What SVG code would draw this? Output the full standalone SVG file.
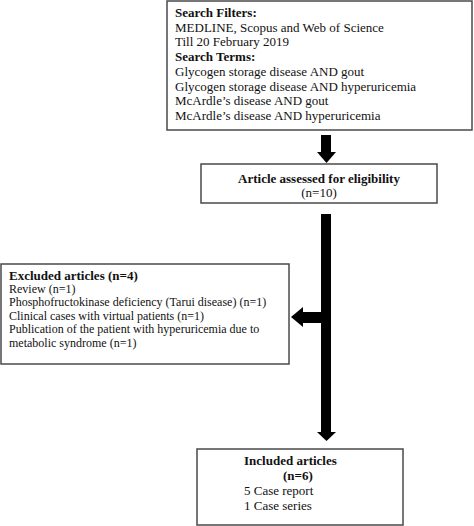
<svg xmlns="http://www.w3.org/2000/svg" width="474" height="526" viewBox="0 0 474 526">
<style>
.box{fill:#fff;stroke:#4a4a4a;stroke-width:1.5}
.t{font-family:"Liberation Serif","Times New Roman",serif;font-size:13px;fill:#111}
.s{font-size:12px}
.b{font-weight:bold}
.arr{fill:#000}
</style>
<rect width="474" height="526" fill="#fff"/>
<g id="connectors">
<rect class="arr" x="321" y="135" width="10" height="17"/>
<polygon class="arr" points="317,152 336,152 326.5,163"/>
<rect class="arr" x="321" y="214" width="10" height="218"/>
<polygon class="arr" points="317,432 336,432 326.5,441"/>
<rect class="arr" x="302" y="312" width="20" height="11"/>
<polygon class="arr" points="303,307 303,327 291,317"/>
</g>
<g id="search">
<rect class="box" x="167" y="1" width="305" height="129"/>
<text class="t b" x="175" y="17">Search Filters:</text>
<text class="t" x="175" y="31.7">MEDLINE, Scopus and Web of Science</text>
<text class="t" x="175" y="46.4">Till 20 February 2019</text>
<text class="t b" x="175" y="61.1">Search Terms:</text>
<text class="t" x="175" y="75.8">Glycogen storage disease AND gout</text>
<text class="t" x="175" y="90.5">Glycogen storage disease AND hyperuricemia</text>
<text class="t" x="175" y="105.2">McArdle’s disease AND gout</text>
<text class="t" x="175" y="119.9">McArdle’s disease AND hyperuricemia</text>
</g>
<g id="assessed">
<rect class="box" x="201" y="164" width="236" height="39"/>
<text class="t b" x="319" y="183" text-anchor="middle">Article assessed for eligibility</text>
<text class="t" x="319" y="197" text-anchor="middle">(n=10)</text>
</g>
<g id="excluded">
<rect class="box" x="1" y="264" width="288" height="100"/>
<text class="t b" x="9" y="279.5">Excluded articles (n=4)</text>
<text class="t s" x="9" y="293">Review (n=1)</text>
<text class="t s" x="9" y="306.3">Phosphofructokinase deficiency (Tarui disease) (n=1)</text>
<text class="t s" x="9" y="319.6">Clinical cases with virtual patients (n=1)</text>
<text class="t s" x="9" y="333">Publication of the patient with hyperuricemia due to</text>
<text class="t s" x="9" y="346.5">metabolic syndrome (n=1)</text>
</g>
<g id="included">
<rect class="box" x="197" y="449" width="206" height="76"/>
<text class="t b" x="244" y="465">Included articles</text>
<text class="t b" x="283" y="480">(n=6)</text>
<text class="t" x="244" y="495">5 Case report</text>
<text class="t" x="244" y="510">1 Case series</text>
</g>
</svg>
